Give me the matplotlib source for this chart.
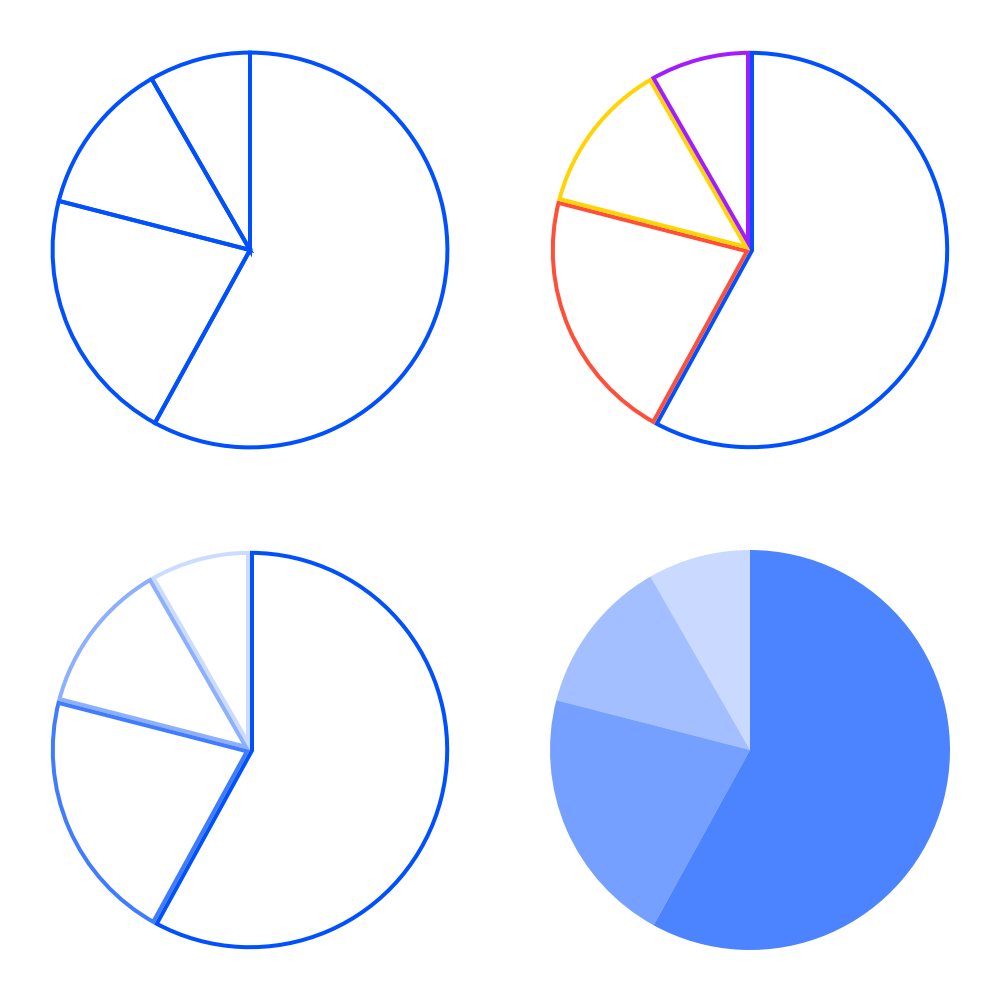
import matplotlib.pyplot as plt
from matplotlib.colors import to_rgba
from matplotlib.patches import Wedge

# =====================================================
# DATA
# =====================================================

categories = ["A", "B", "C", "D"]
values = [58, 21, 12.7, 8.3]

blue = "#0050ff"
stroke_colors = ["#0050ff", "#ff4f38", "#ffd400", "#a11dff"]
stroke_alphas = [1.0, 0.75, 0.45, 0.2]
fill_alphas = [0.7, 0.54, 0.36, 0.21]

# =====================================================
# FIGURE
# =====================================================

DPI = 100
fig = plt.figure(figsize=(10, 10), dpi=DPI)

px = 72 / DPI  # one pixel in points


def make_ax(left, bottom):
    ax = fig.add_axes([left, bottom, 0.5, 0.5])
    ax.set_xlim(-1.25, 1.25)
    ax.set_ylim(-1.25, 1.25)
    ax.set_aspect("equal")
    ax.axis("off")
    return ax


def inner_stroke(ax, wedges, colors, width_px=4):
    # stroke only the inside of each wedge
    for w, c in zip(wedges, colors):
        w.set_facecolor("none")
        w.set_edgecolor(c)
        w.set_linewidth(2 * width_px * px)
        clip = Wedge(w.center, w.r, w.theta1, w.theta2, transform=ax.transData)
        w.set_clip_on(True)
        w.set_clip_path(clip)


# -----------------------------------------------------
# TOP LEFT: plain outline
# -----------------------------------------------------

ax1 = make_ax(0.0, 0.5)
ax1.pie(
    values,
    radius=0.987,
    startangle=90,
    counterclock=False,
    wedgeprops=dict(facecolor="none", edgecolor=blue, linewidth=4 * px),
)

# -----------------------------------------------------
# TOP RIGHT: coloured strokes
# -----------------------------------------------------

ax2 = make_ax(0.5, 0.5)
wedges2, _ = ax2.pie(values, radius=0.996, startangle=90, counterclock=False)
inner_stroke(ax2, wedges2, stroke_colors)

# -----------------------------------------------------
# BOTTOM LEFT: stroke opacity
# -----------------------------------------------------

ax3 = make_ax(0.0, 0.0)
wedges3, _ = ax3.pie(values, radius=0.996, startangle=90, counterclock=False)
inner_stroke(ax3, wedges3, [to_rgba(blue, a) for a in stroke_alphas])

# -----------------------------------------------------
# BOTTOM RIGHT: fill opacity
# -----------------------------------------------------

ax4 = make_ax(0.5, 0.0)
ax4.pie(
    values,
    radius=1.0,
    startangle=90,
    counterclock=False,
    colors=[to_rgba(blue, a) for a in fill_alphas],
    wedgeprops=dict(linewidth=0),
)

plt.savefig("out.png", dpi=DPI)
